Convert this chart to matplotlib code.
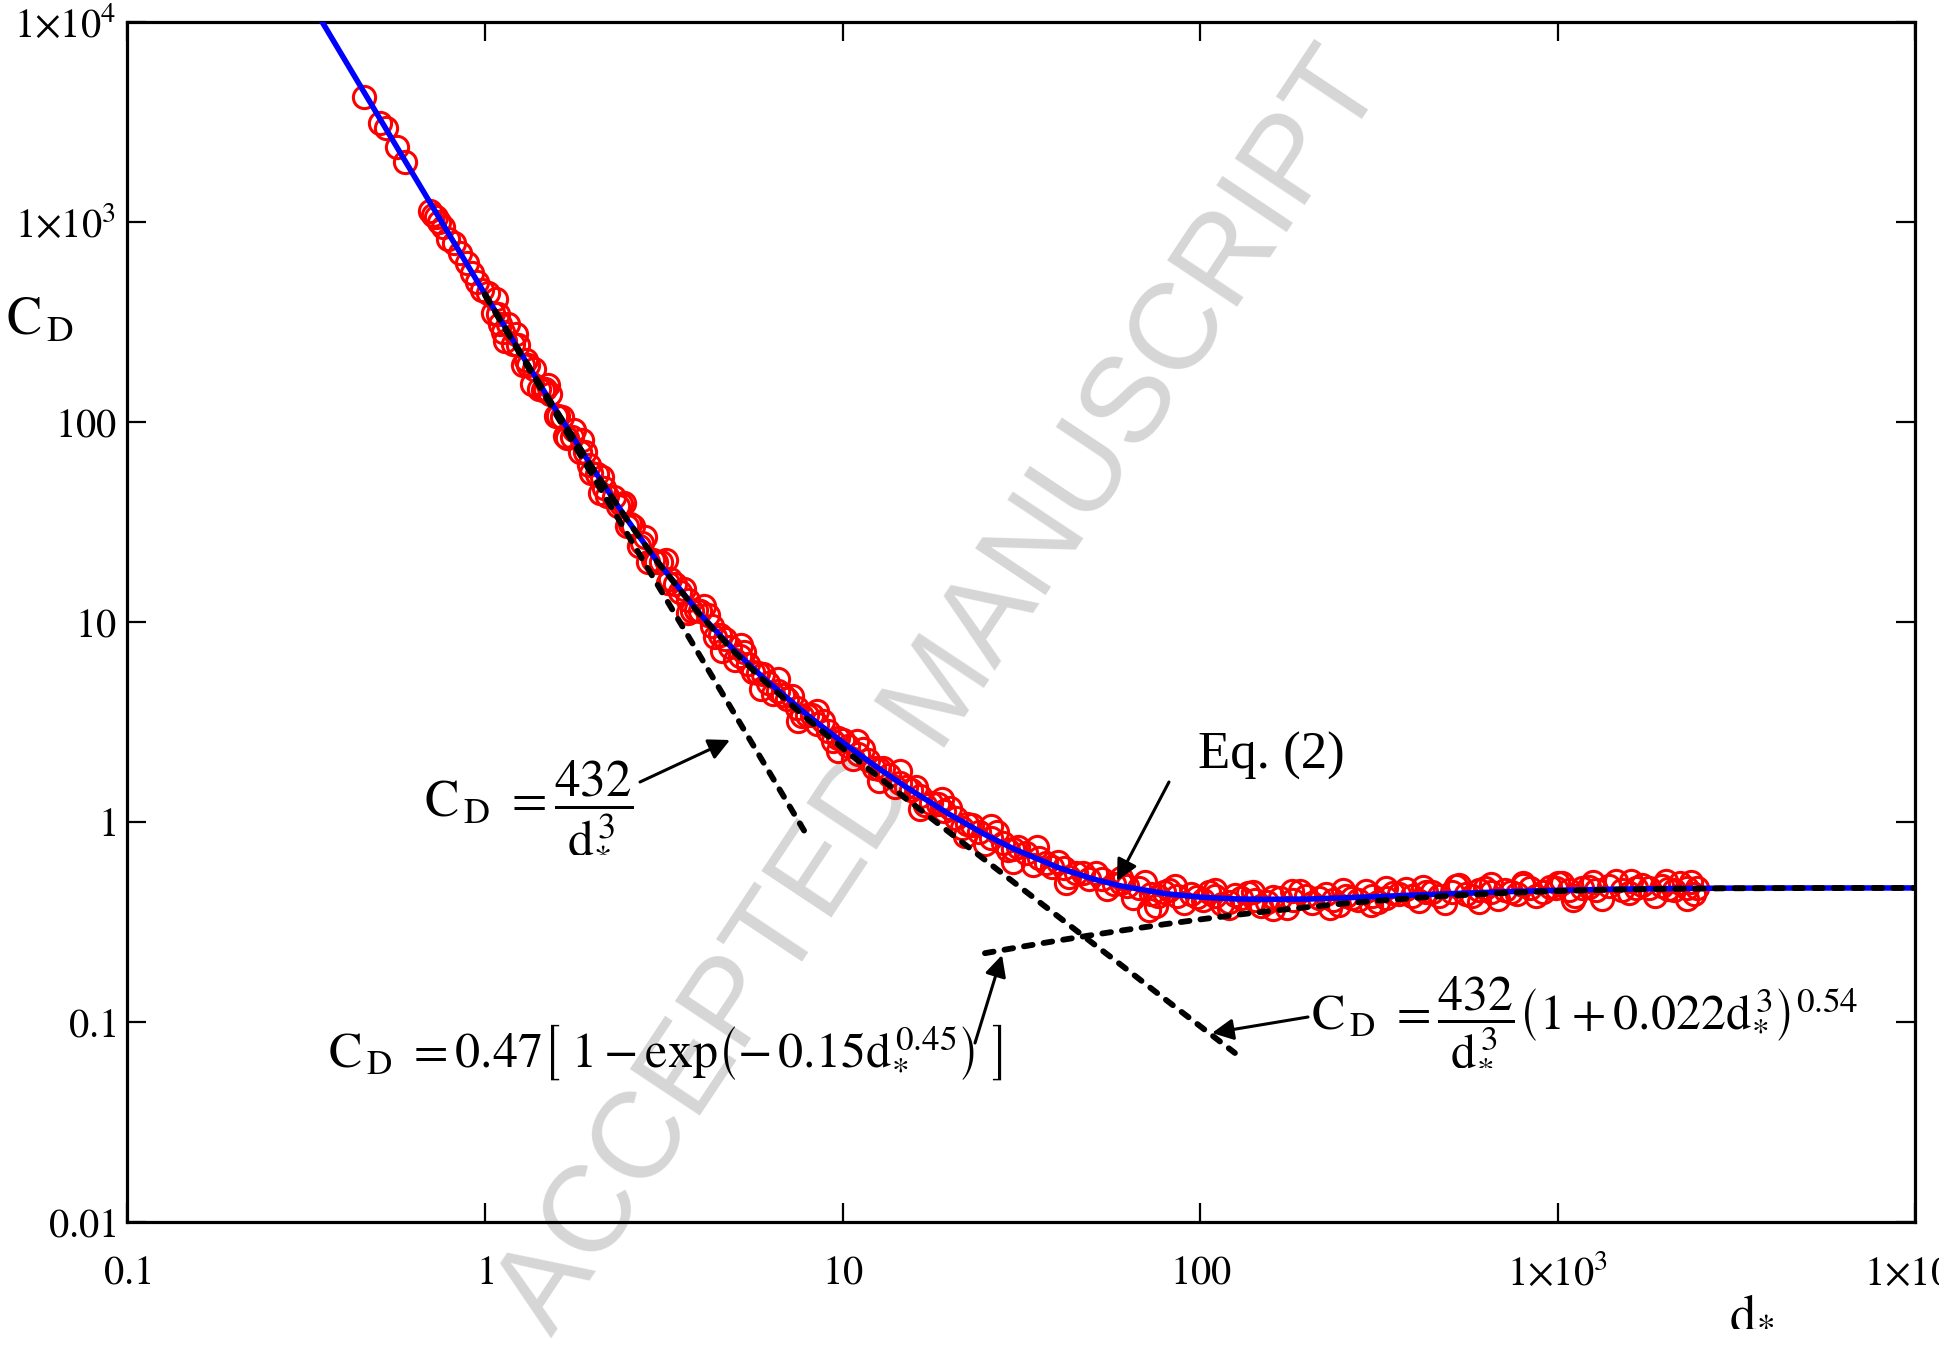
import matplotlib
matplotlib.use("Agg")
import matplotlib.pyplot as plt

plt.rcParams['mathtext.fontset'] = 'stix'
plt.rcParams['font.family'] = ['Liberation Serif', 'DejaVu Serif']

# ---------------- data ----------------
# Eq. (2) (blue solid)
eq2_d = [0.3, 0.35, 0.4, 0.5, 0.6, 0.7, 0.8, 1, 1.25, 1.5, 2, 2.5, 3, 4, 5, 6, 8, 10,
         12.5, 15, 20, 25, 30, 40, 50, 60, 80, 100, 125, 150, 200, 250, 300, 400, 500,
         700, 1000, 1500, 2000, 3000, 5000, 10000]
eq2_cd = [16005, 10081, 6755, 3461, 2005, 1265, 849, 437.2, 226.4, 133.1, 59.03, 32.53,
          20.68, 10.96, 7.181, 5.278, 3.416, 2.511, 1.882, 1.507, 1.090, 0.870, 0.739,
          0.595, 0.522, 0.481, 0.440, 0.4228, 0.4144, 0.4122, 0.4137, 0.4193, 0.4244,
          0.4333, 0.4401, 0.4496, 0.4577, 0.4639, 0.4667, 0.4690, 0.4700, 0.4701]

# C_D = 432 / d*^3 (black dashed)
stokes_d = [1, 2, 4, 7.8]
stokes_cd = [432, 54, 6.75, 0.910]

# C_D = 432/d*^3 (1 + 0.022 d*^3)^0.54 (black dashed)
low_d = [1, 1.25, 1.5, 2, 2.5, 3, 4, 5, 6, 8, 10, 12.5, 15, 20, 25, 30, 40, 50, 60, 80,
         100, 125]
low_cd = [437.1, 226.3, 133.0, 58.94, 32.43, 20.58, 10.85, 7.056, 5.144, 3.266, 2.349,
          1.706, 1.320, 0.884, 0.649, 0.504, 0.339, 0.249, 0.194, 0.130, 0.0956, 0.0703]

# C_D = 0.47 [1 - exp(-0.15 d*^0.45)] (black dashed)
high_d = [25, 30, 40, 50, 60, 80, 100, 125, 150, 200, 250, 300, 400, 500, 700, 1000,
          1500, 2000, 3000, 5000, 10000]
high_cd = [0.2218, 0.235, 0.2565, 0.2735, 0.2876, 0.310, 0.3272, 0.3441, 0.3575, 0.377,
           0.3923, 0.4034, 0.4191, 0.4298, 0.4431, 0.4537, 0.4616, 0.4652, 0.4681,
           0.4695, 0.4700]

# measured data (red open circles)
data_d = [0.46, 0.51, 0.53, 0.567, 0.598, 0.70, 0.716, 0.73, 0.745, 0.764, 0.79, 0.82,
          0.85, 0.89, 0.92, 0.95, 0.98,
          1.02, 1.05, 1.09, 1.12, 1.16, 1.20, 1.24, 1.28, 1.32, 1.37, 1.42, 1.47, 1.52,
          1.58, 1.64, 1.70, 1.77, 1.84, 1.90, 1.98, 2.05, 2.13, 2.20, 2.30, 2.40, 2.50,
          2.60, 2.70, 2.80, 2.95, 3.10, 3.25, 3.40, 3.60, 3.80, 4.0, 4.2, 4.4, 4.7, 5.0,
          5.3, 5.6, 6.0, 6.4, 6.8, 7.2, 7.7, 8.2, 8.8, 9.4, 10, 10.7, 11.4, 12.2, 13, 14,
          15, 16, 17, 18.5, 20, 21.5, 23, 25, 27, 29, 31, 34, 37, 40, 43, 47, 51, 55, 60,
          65, 70, 76, 82, 90, 98, 106, 115, 125, 136, 148, 160, 175, 190, 205, 225, 245,
          265, 290, 315, 345, 375, 410, 445, 485, 530, 575, 625, 680, 740, 800, 870, 950,
          1030, 1120, 1220, 1330, 1450, 1580, 1720, 1870, 2030, 2200, 2400,
          1.1, 1.3, 1.45, 1.6, 1.75, 1.95, 2.15, 2.35, 2.55, 2.75, 3.0, 3.3, 3.5, 3.7,
          3.9, 4.3, 4.55, 4.85, 5.15, 5.45, 5.8, 6.2, 6.6, 7.0, 7.45, 7.95, 8.5, 9.1, 9.7,
          10.35, 11.05, 11.8, 12.6, 13.5, 14.5, 15.5, 16.5, 17.7, 19.2, 20.7, 22.2, 24,
          26, 28, 30,
          32.5, 35.5, 38.5, 41.5, 45, 49, 53, 57.5, 62.5, 67.5, 73, 79, 86, 94, 102, 110,
          120, 130, 142, 154, 167, 182, 197, 215, 235, 255, 277, 302, 330, 360, 392, 427,
          465, 507, 552, 600, 652, 710, 770, 835, 910, 990, 1075, 1170, 1275, 1390, 1515,
          1650, 1795, 1950, 2115, 2300, 2450, 72, 75, 160, 230,
          1.07, 1.14, 1.22, 1.35, 1.5, 1.67, 1.87, 2.1, 2.45, 2.85, 3.2, 3.7, 4.1, 4.6,
          5.2, 5.9, 6.6, 7.5, 8.5, 9.7, 11, 12.6, 14.5, 16.5, 19, 22, 26, 30, 35, 42,
          60, 85, 110, 140, 180, 250, 330, 420, 520, 650, 800, 1000, 1250, 1600, 2000,
          2350, 120, 300, 600, 1100, 2300]
data_cd = [4230, 3150, 2960, 2378, 2002, 1140, 1089, 1060, 1000, 949, 830, 790,
           700, 627, 560, 505, 460,
           445, 352, 349, 282, 310, 245, 244, 194, 193, 185, 147, 147, 138,
           107, 106, 83.7, 91.2, 71.4, 71.4, 55.8, 55.2, 53.2, 42.9, 42.1, 39.1, 30.2,
           30.3, 24.1, 26.8, 20.6, 20.1, 15.7, 15.5, 14.6, 11.4, 11.4, 10.9, 8.45, 8.27,
           6.46, 7.14, 5.67, 5.54, 4.39, 4.34, 4.26, 3.39, 3.43, 3.23, 2.54, 2.59, 2.07,
           2.33, 1.86, 1.88, 1.51, 1.51, 1.50, 1.22, 1.23, 1.18, 0.939, 0.972, 0.783,
           0.891, 0.730, 0.756, 0.615, 0.628, 0.637, 0.534, 0.561, 0.559, 0.465, 0.495,
           0.421, 0.503, 0.429, 0.460, 0.397, 0.425, 0.450, 0.392, 0.431, 0.446, 0.383,
           0.424, 0.372, 0.454, 0.397, 0.437, 0.385, 0.420, 0.453, 0.400, 0.445, 0.464,
           0.404, 0.449, 0.395, 0.486, 0.426, 0.469, 0.413, 0.451, 0.485, 0.428, 0.475,
           0.495, 0.428, 0.475, 0.416, 0.509, 0.445, 0.488, 0.429, 0.467, 0.500, 0.440,
           310, 205, 145, 108, 84, 61, 47, 38, 31, 25, 20, 16.5, 14.2, 12.9,
           11.5, 9.6, 8.6, 7.5, 6.8, 6.2, 5.6, 5.0, 4.55, 4.15, 3.75, 3.45, 3.1, 2.85, 2.65,
           2.42, 2.2, 2.05, 1.85, 1.72, 1.57, 1.45, 1.35, 1.25, 1.14, 1.05, 0.98, 0.90,
           0.84, 0.79, 0.74,
           0.70, 0.66, 0.60, 0.59, 0.56, 0.52, 0.52, 0.49, 0.48, 0.47, 0.44, 0.45, 0.43,
           0.44, 0.41, 0.43, 0.40, 0.42, 0.41, 0.40, 0.42, 0.41, 0.43, 0.42, 0.41, 0.43,
           0.41, 0.43, 0.42, 0.44, 0.43, 0.45, 0.43, 0.45, 0.44, 0.46, 0.45, 0.46, 0.44,
           0.47, 0.45, 0.47, 0.46, 0.47, 0.46, 0.48, 0.46, 0.47, 0.47, 0.48, 0.46, 0.47,
           0.47, 0.365, 0.38, 0.37, 0.375,
           415, 255, 277, 155, 153, 85, 81.7, 44.4, 39.5, 20.1, 20.5, 11.1, 12.1, 7.2,
           7.7, 4.66, 5.23, 3.22, 3.6, 2.27, 2.55, 1.61, 1.8, 1.16, 1.31, 0.85, 0.96,
           0.635, 0.75, 0.50,
           0.53, 0.48, 0.46, 0.45, 0.455, 0.46, 0.47, 0.475, 0.48, 0.49, 0.50, 0.50,
           0.505, 0.51, 0.51, 0.505, 0.375, 0.385, 0.40, 0.41, 0.415]

xticks = [0.1, 1, 10, 100, 1000, 10000]
xticklabels = ['$0.1$', '$1$', '$10$', '$100$', r'$1{\times}10^{3}$', r'$1{\times}10^{4}$']
yticks = [0.01, 0.1, 1, 10, 100, 1000, 10000]
yticklabels = ['$0.01$', '$0.1$', '$1$', '$10$', '$100$', r'$1{\times}10^{3}$',
               r'$1{\times}10^{4}$']

# ---------------- figure ----------------
W, H = 1940, 1357
fig = plt.figure(figsize=(W / 100, H / 100), dpi=100)
ax = fig.add_axes([127.4 / W, 1 - 1222.4 / H, (1915.5 - 127.4) / W, (1222.4 - 22.3) / H])
ax.patch.set_alpha(0)
ax.set_zorder(1)

# watermark
fig.text(943 / W, 1 - 693 / H, 'ACCEPTED MANUSCRIPT', family='Liberation Sans',
         fontsize=88, color='#d6d6d6', rotation=56.4, rotation_mode='anchor',
         ha='center', va='center', zorder=0)

ax.plot(data_d, data_cd, linestyle='none', marker='o', markersize=16,
        markerfacecolor='none', markeredgecolor='#ff0000', markeredgewidth=2.2, zorder=2)
ax.plot(eq2_d, eq2_cd, color='#0000ff', lw=4.0, zorder=3)
dash_kw = dict(color='black', lw=4.2, dashes=(1.5, 1.9), dash_capstyle='round', zorder=4)
ax.plot(stokes_d, stokes_cd, **dash_kw)
ax.plot(low_d, low_cd, **dash_kw)
ax.plot(high_d, high_cd, **dash_kw)

ax.set_xscale('log')
ax.set_yscale('log')
ax.set_xlim(0.1, 10000)
ax.set_ylim(0.01, 10000)
ax.set_xticks(xticks)
ax.set_xticklabels(xticklabels)
ax.set_yticks(yticks)
ax.set_yticklabels(yticklabels)
ax.minorticks_off()
ax.tick_params(which='major', direction='in', length=14, width=1.6, top=True,
               right=True, labelsize=29, colors='black')
ax.tick_params(axis='x', pad=24)
ax.tick_params(axis='y', pad=8)
for s in ax.spines.values():
    s.set_linewidth(2.3)

# axis titles
fig.text(6 / W, 1 - 322 / H, r'$\mathrm{C}_{\,\mathrm{D}}$', fontsize=38,
         ha='left', va='center')
fig.text(1752 / W, 1 - 1312 / H, r'$\mathrm{d}_{*}$', fontsize=38,
         ha='center', va='center')

# annotations (positions in figure pixels from the top-left)
def fp(x, y):
    return (x, H - y)

arrow_kw = dict(arrowstyle='-|>', mutation_scale=32, lw=2.2, color='black',
                shrinkA=0, shrinkB=0)

fig.text(529 / W, 1 - 806 / H, r'$\mathrm{C}_{\,\mathrm{D}}\ =\dfrac{432}{\mathrm{d}_{*}^{\,3}}$',
         fontsize=37, ha='center', va='center', zorder=5)
ax.annotate('', xy=fp(730, 740), xycoords='figure pixels',
            xytext=fp(640, 782), textcoords='figure pixels', arrowprops=arrow_kw)

fig.text(1271 / W, 1 - 756 / H, 'Eq. (2)', fontsize=38, ha='center', va='center',
         zorder=5)
ax.annotate('', xy=fp(1117, 881), xycoords='figure pixels',
            xytext=fp(1169, 782), textcoords='figure pixels', arrowprops=arrow_kw)

fig.text(665 / W, 1 - 1052 / H,
         r'$\mathrm{C}_{\,\mathrm{D}}\ = 0.47\left[\ 1 - \mathrm{exp}\left(-\,0.15\mathrm{d}_{*}^{\,0.45}\right)\ \right]$',
         fontsize=36, ha='center', va='center', zorder=5)
ax.annotate('', xy=fp(1002, 955), xycoords='figure pixels',
            xytext=fp(975, 1043), textcoords='figure pixels', arrowprops=arrow_kw)

fig.text(1585 / W, 1 - 1021 / H,
         r'$\mathrm{C}_{\,\mathrm{D}}\ =\dfrac{432}{\mathrm{d}_{*}^{\,3}}\left(1+0.022\mathrm{d}_{*}^{\,3}\right)^{0.54}$',
         fontsize=36, ha='center', va='center', zorder=5)
ax.annotate('', xy=fp(1212, 1033), xycoords='figure pixels',
            xytext=fp(1308, 1017), textcoords='figure pixels', arrowprops=arrow_kw)

fig.savefig('out.png', dpi=100)
